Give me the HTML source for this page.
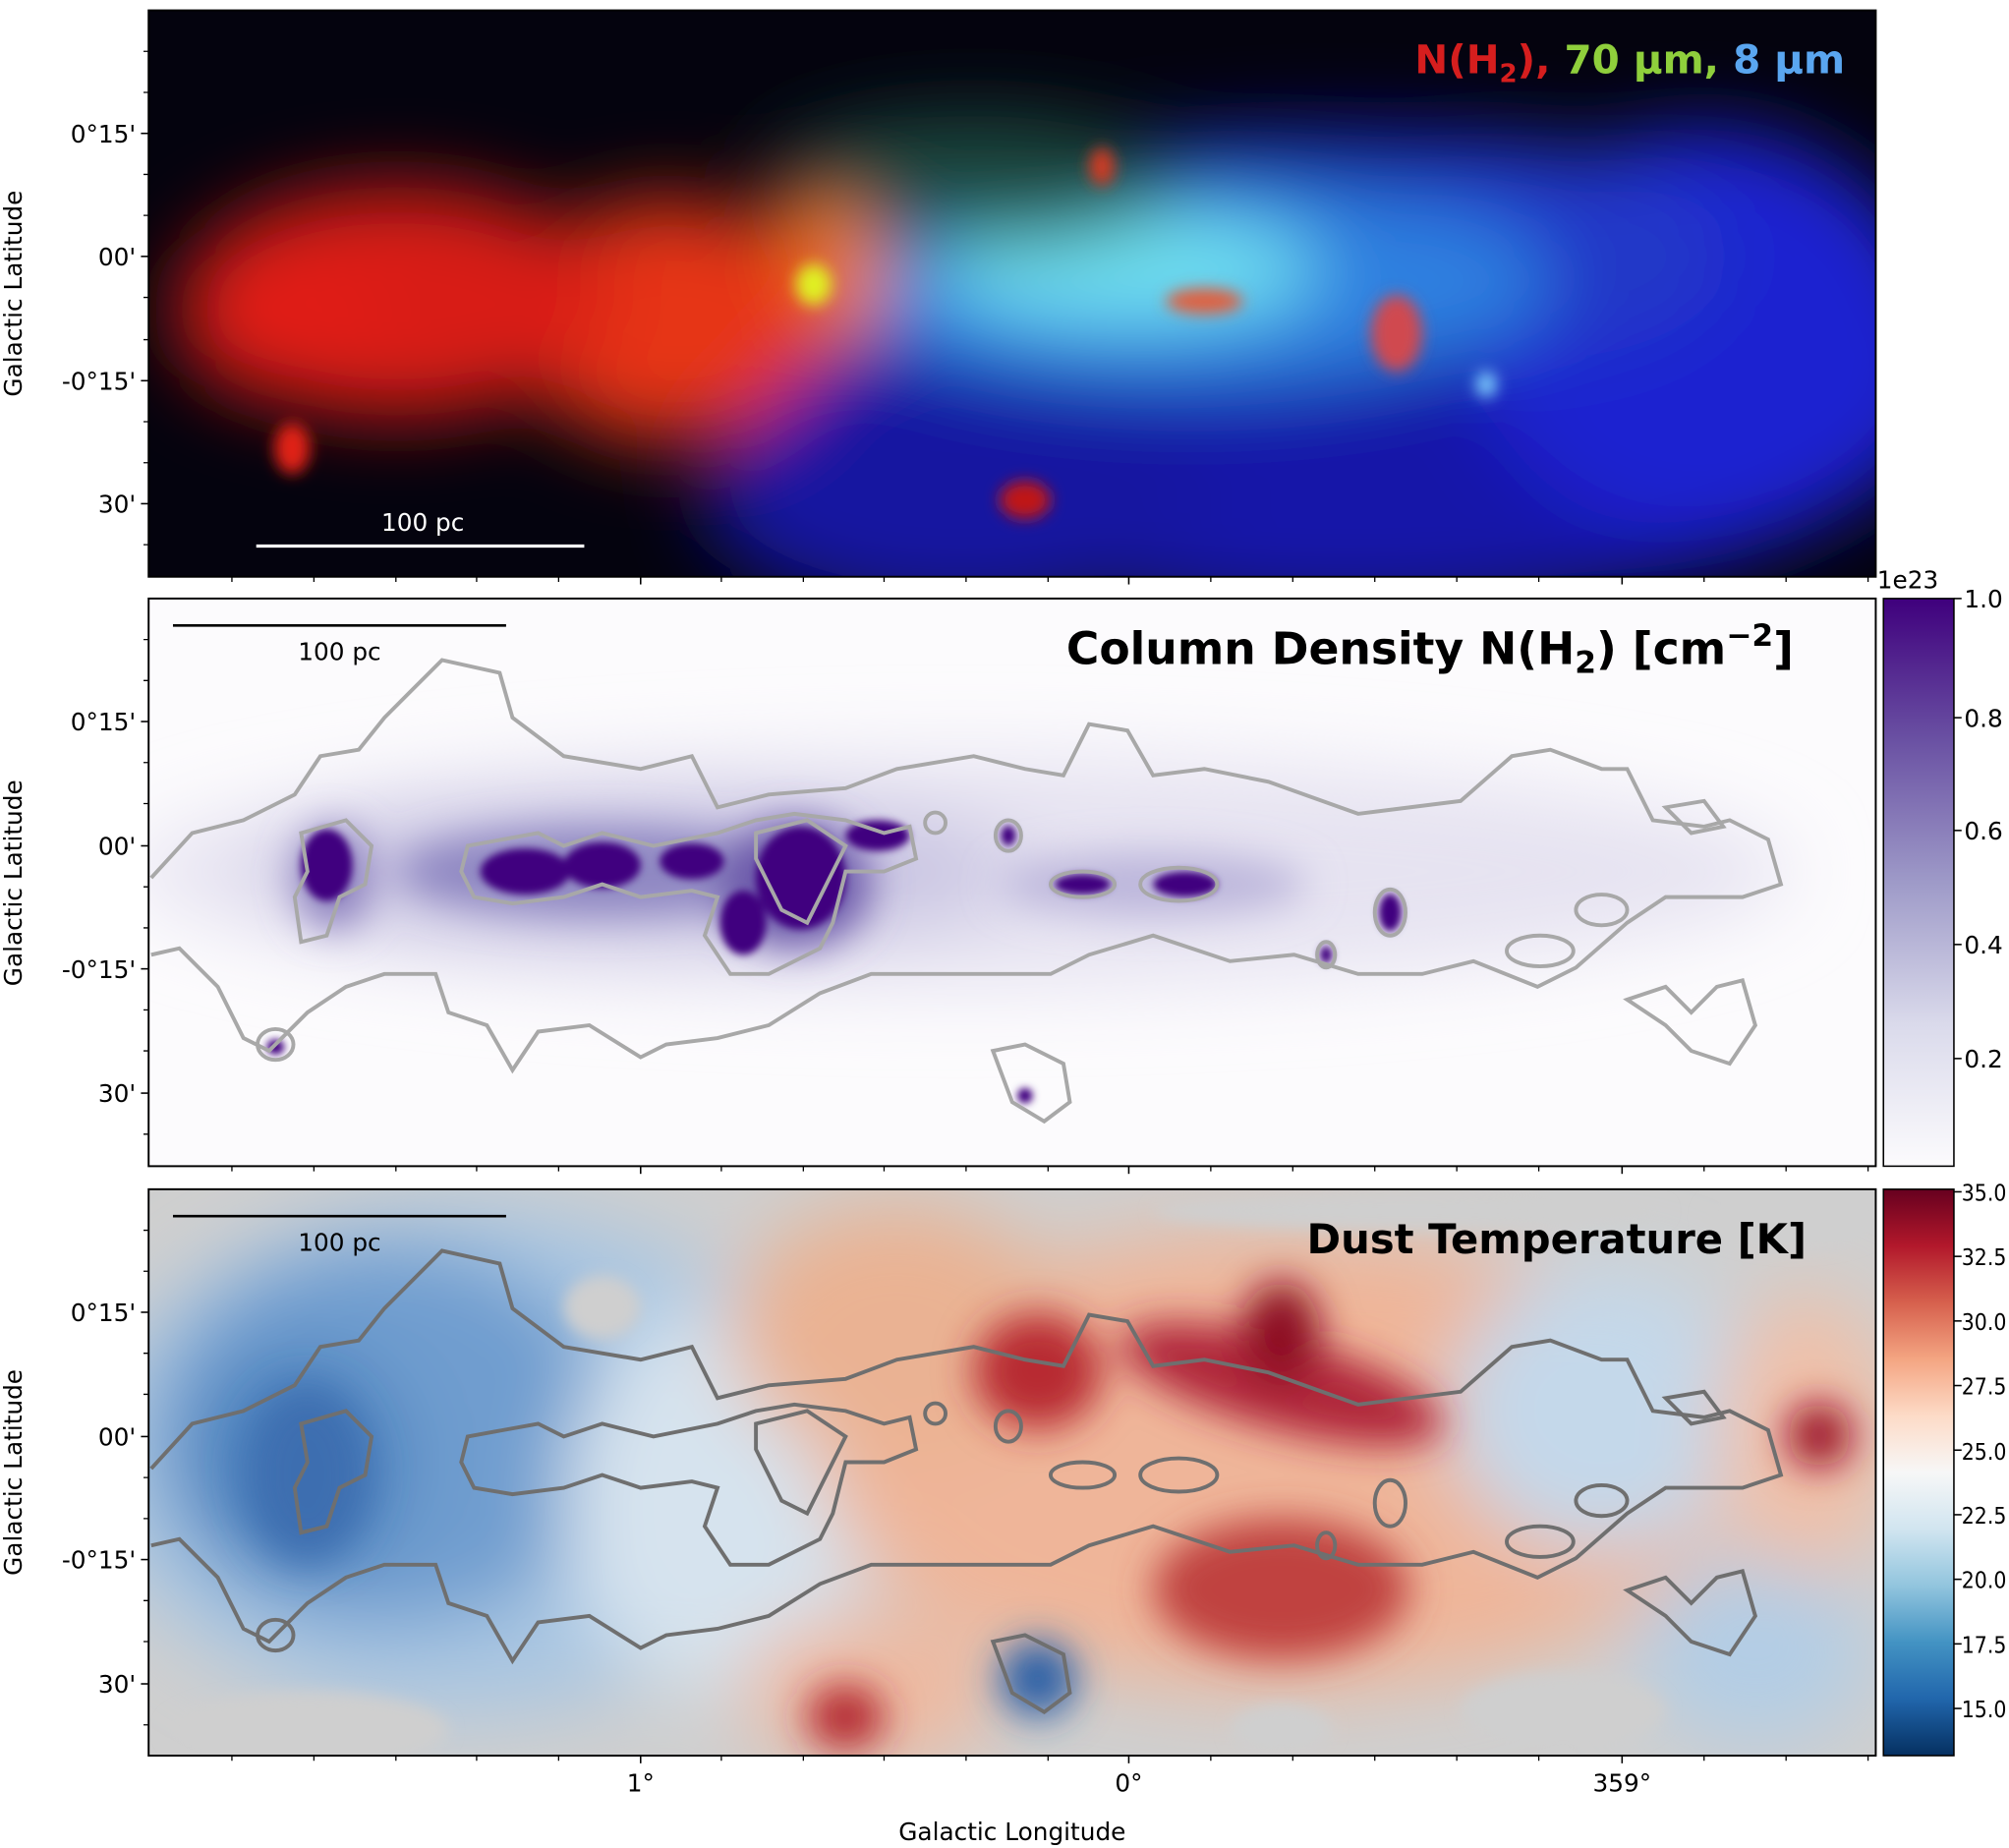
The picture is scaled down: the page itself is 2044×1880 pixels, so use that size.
<!DOCTYPE html>
<html><head><meta charset="utf-8"><style>
html,body{margin:0;padding:0;background:#fff;width:2044px;height:1880px;overflow:hidden}
svg{display:block}
text{font-family:"DejaVu Sans","Liberation Sans",sans-serif}
</style></head><body>
<svg width="2044" height="1880" viewBox="0 0 1568 1442" xmlns="http://www.w3.org/2000/svg">
<defs>
<clipPath id="cp1"><rect x="116" y="8" width="1348" height="442"/></clipPath>
<clipPath id="cp2"><rect x="116" y="467" width="1348" height="443"/></clipPath>
<clipPath id="cp3"><rect x="116" y="928" width="1348" height="442"/></clipPath>
<filter id="b30" x="-50%" y="-50%" width="200%" height="200%"><feGaussianBlur stdDeviation="30"/></filter>
<filter id="b15" x="-50%" y="-50%" width="200%" height="200%"><feGaussianBlur stdDeviation="15"/></filter>
<filter id="b6" x="-50%" y="-50%" width="200%" height="200%"><feGaussianBlur stdDeviation="6"/></filter>
<filter id="b3" x="-50%" y="-50%" width="200%" height="200%"><feGaussianBlur stdDeviation="3"/></filter>
<linearGradient id="pur" x1="0" y1="1" x2="0" y2="0">
<stop offset="0" stop-color="#fcfbfd"/><stop offset="0.25" stop-color="#dadaeb"/><stop offset="0.5" stop-color="#9e9ac8"/><stop offset="0.75" stop-color="#6a51a3"/><stop offset="1" stop-color="#3f007d"/></linearGradient>
<linearGradient id="rdbu" x1="0" y1="1" x2="0" y2="0">
<stop offset="0" stop-color="#053061"/><stop offset="0.1" stop-color="#2166ac"/><stop offset="0.2" stop-color="#4393c3"/><stop offset="0.3" stop-color="#92c5de"/><stop offset="0.4" stop-color="#d1e5f0"/><stop offset="0.5" stop-color="#f7f7f7"/><stop offset="0.6" stop-color="#fddbc7"/><stop offset="0.7" stop-color="#f4a582"/><stop offset="0.8" stop-color="#d6604d"/><stop offset="0.9" stop-color="#b2182b"/><stop offset="1" stop-color="#67001f"/></linearGradient>
<path id="outer" d="M118,685 L150,650 L190,640 L230,620 L250,590 L280,585 L300,560 L320,540 L345,515 L390,525 L400,560 L440,590 L500,600 L540,590 L560,630 L600,620 L660,615 L700,600 L760,590 L800,600 L830,605 L850,565 L880,570 L900,605 L940,600 L990,610 L1060,635 L1100,630 L1140,625 L1180,590 L1210,585 L1250,600 L1270,600 L1290,640 L1330,645 L1350,640 L1380,655 L1390,690 L1360,700 L1300,700 L1270,720 L1230,755 L1200,770 L1150,750 L1110,760 L1060,760 L1010,745 L960,750 L900,730 L850,745 L820,760 L770,760 L720,760 L680,760 L640,775 L600,800 L560,810 L520,815 L500,825 L460,800 L420,805 L400,835 L380,800 L350,790 L340,760 L300,760 L270,770 L240,790 L210,820 L190,810 L170,770 L140,740 L118,745"/>
<g id="inner">
<path d="M235,650 L270,640 L290,660 L285,690 L265,700 L255,730 L235,735 L230,700 L240,680Z"/>
<path d="M365,660 L420,650 L440,660 L470,650 L510,660 L560,650 L590,640 L620,635 L660,640 L690,650 L710,645 L715,670 L690,680 L660,680 L650,720 L640,740 L600,760 L570,760 L550,730 L560,700 L540,695 L500,700 L470,690 L440,700 L400,705 L370,700 L360,680Z"/>
<path d="M590,650 L630,640 L660,660 L645,690 L630,720 L610,710 L600,690 L590,670Z"/>
<ellipse cx="845" cy="690" rx="25" ry="10"/><ellipse cx="920" cy="690" rx="30" ry="13"/>
<ellipse cx="1085" cy="712" rx="12" ry="18"/><ellipse cx="787" cy="652" rx="10" ry="12"/><ellipse cx="730" cy="642" rx="8" ry="8"/>
<ellipse cx="1035" cy="745" rx="7" ry="10"/><ellipse cx="215" cy="815" rx="14" ry="12"/>
<path d="M1300,630 L1330,625 L1345,645 L1320,650Z"/><ellipse cx="1202" cy="742" rx="26" ry="12"/>
<path d="M775,820 L800,815 L830,830 L835,860 L815,875 L790,860Z"/>
<path d="M1270,780 L1300,770 L1320,790 L1340,770 L1360,765 L1370,800 L1350,830 L1320,820 L1300,800Z"/>
<ellipse cx="1250" cy="710" rx="20" ry="12"/>
</g>
</defs>

<!-- PANEL 1 -->
<g clip-path="url(#cp1)">
<rect x="116" y="8" width="1348" height="442" fill="#04030e"/>
<g filter="url(#b30)">
<ellipse cx="1050" cy="290" rx="480" ry="190" fill="#1216a8"/>
<ellipse cx="1330" cy="260" rx="180" ry="160" fill="#1e24d0"/>
<ellipse cx="1200" cy="200" rx="150" ry="80" fill="#2438c8"/>
<ellipse cx="750" cy="390" rx="200" ry="90" fill="#1218a0"/>
<ellipse cx="930" cy="220" rx="280" ry="80" fill="#2e80e0"/>
<ellipse cx="880" cy="210" rx="150" ry="45" fill="#70e0f0"/>
<ellipse cx="760" cy="140" rx="160" ry="50" fill="#1e4a40"/>
<ellipse cx="640" cy="215" rx="50" ry="60" fill="#f07a20"/>
<ellipse cx="520" cy="250" rx="120" ry="95" fill="#e63418"/>
<ellipse cx="310" cy="235" rx="170" ry="90" fill="#d81c14"/>
<ellipse cx="220" cy="250" rx="80" ry="60" fill="#e01c18"/>
</g>
<g filter="url(#b6)">
<ellipse cx="635" cy="222" rx="14" ry="16" fill="#e0f020"/>
<ellipse cx="940" cy="235" rx="30" ry="10" fill="#e06040"/>
<ellipse cx="1090" cy="260" rx="20" ry="30" fill="#d04850"/>
<ellipse cx="860" cy="130" rx="10" ry="15" fill="#d03a20"/>
<ellipse cx="228" cy="350" rx="14" ry="20" fill="#e02018"/>
<ellipse cx="800" cy="390" rx="20" ry="15" fill="#c01818"/>
<ellipse cx="1160" cy="300" rx="8" ry="10" fill="#80d0ff"/>
</g>
<text x="1440" y="57" text-anchor="end" font-family="Liberation Sans, sans-serif" font-weight="bold" font-size="31"><tspan fill="#d61e1e">N(H</tspan><tspan fill="#d61e1e" font-size="20" dy="7">2</tspan><tspan fill="#d61e1e" dy="-7">),</tspan><tspan fill="#8fcf3c"> 70 µm,</tspan><tspan fill="#5aa6f0"> 8 µm</tspan></text>
<line x1="200" y1="426" x2="456" y2="426" stroke="#fff" stroke-width="2.5"/>
<text x="330" y="414" text-anchor="middle" fill="#fff" font-size="19">100 pc</text>
</g>
<rect x="116" y="8" width="1348" height="442" fill="none" stroke="#000" stroke-width="1.5"/>

<!-- PANEL 2 -->
<g clip-path="url(#cp2)">
<rect x="116" y="467" width="1348" height="443" fill="#fcfbfd"/>
<g filter="url(#b30)">
<ellipse cx="750" cy="680" rx="650" ry="90" fill="#e6e3f1"/>
<ellipse cx="500" cy="680" rx="300" ry="60" fill="#c9c5e2"/>
</g>
<g filter="url(#b15)">
<ellipse cx="470" cy="680" rx="160" ry="35" fill="#8f87c2"/>
<ellipse cx="620" cy="690" rx="60" ry="50" fill="#6d5aab"/>
<ellipse cx="260" cy="685" rx="30" ry="40" fill="#8e82c0"/>
<ellipse cx="900" cy="690" rx="120" ry="25" fill="#bcb6db"/>
</g>
<g filter="url(#b3)" fill="#3f047f">
<ellipse cx="255" cy="675" rx="20" ry="28"/>
<ellipse cx="410" cy="680" rx="35" ry="18"/>
<ellipse cx="470" cy="675" rx="30" ry="18"/>
<ellipse cx="540" cy="672" rx="25" ry="14"/>
<ellipse cx="625" cy="685" rx="35" ry="40"/>
<ellipse cx="685" cy="652" rx="25" ry="12"/>
<ellipse cx="580" cy="720" rx="18" ry="25"/>
<ellipse cx="845" cy="690" rx="22" ry="8"/>
<ellipse cx="925" cy="690" rx="25" ry="10"/>
<ellipse cx="1085" cy="712" rx="9" ry="15"/>
<ellipse cx="1035" cy="745" rx="5" ry="7"/>
<ellipse cx="215" cy="817" rx="7" ry="6"/>
<ellipse cx="787" cy="652" rx="6" ry="8"/>
<ellipse cx="800" cy="855" rx="6" ry="6"/>
</g>
<use href="#outer" fill="none" stroke="#a8a8a8" stroke-width="3"/>
<use href="#inner" fill="none" stroke="#a8a8a8" stroke-width="3"/>
<text x="1400" y="518" text-anchor="end" font-weight="bold" font-size="35" fill="#000">Column Density N(H<tspan font-size="24" dy="7">2</tspan><tspan dy="-7">) [cm</tspan><tspan font-size="24" dy="-14">−2</tspan><tspan dy="14">]</tspan></text>
<line x1="135" y1="488" x2="395" y2="488" stroke="#000" stroke-width="2"/>
<text x="265" y="515" text-anchor="middle" font-size="19">100 pc</text>
</g>
<rect x="116" y="467" width="1348" height="443" fill="none" stroke="#000" stroke-width="1.5"/>

<!-- PANEL 3 -->
<g clip-path="url(#cp3)">
<rect x="116" y="928" width="1348" height="442" fill="#cfcfcf"/>
<g filter="url(#b30)">
<ellipse cx="360" cy="1140" rx="290" ry="200" fill="#a9c6e2"/>
<ellipse cx="300" cy="1120" rx="180" ry="150" fill="#6f9dcf"/>
<ellipse cx="230" cy="1140" rx="90" ry="90" fill="#4f85c0"/>
<ellipse cx="560" cy="1170" rx="120" ry="150" fill="#d6e3ee"/>
<ellipse cx="1000" cy="1140" rx="360" ry="180" fill="#efb599"/>
<ellipse cx="700" cy="1040" rx="130" ry="100" fill="#eab293"/>
<ellipse cx="1250" cy="1100" rx="120" ry="110" fill="#c4d8ea"/>
<ellipse cx="1410" cy="1120" rx="70" ry="110" fill="#f0c0a8"/>
<ellipse cx="1370" cy="1290" rx="90" ry="70" fill="#b3cde5"/>
<ellipse cx="680" cy="1320" rx="100" ry="60" fill="#eeb9a0"/>
</g>
<g filter="url(#b15)">
<ellipse cx="1000" cy="1080" rx="130" ry="35" fill="#b0283a" transform="rotate(15 1000 1080)"/>
<ellipse cx="810" cy="1070" rx="50" ry="45" fill="#b82a30"/>
<ellipse cx="1000" cy="1240" rx="100" ry="55" fill="#c0433f"/>
<ellipse cx="1000" cy="1040" rx="30" ry="40" fill="#8c0a24"/>
<ellipse cx="1420" cy="1120" rx="25" ry="25" fill="#9a1028"/>
<ellipse cx="240" cy="1150" rx="50" ry="70" fill="#3d6eb0"/>
<ellipse cx="810" cy="1310" rx="30" ry="30" fill="#2c5ea6"/>
<ellipse cx="660" cy="1340" rx="30" ry="25" fill="#b2282f"/>
</g>
<g filter="url(#b6)">
<ellipse cx="470" cy="1020" rx="30" ry="25" fill="#cfcfcf"/>
<ellipse cx="1220" cy="1335" rx="80" ry="30" fill="#cfcfcf"/>
<ellipse cx="240" cy="1350" rx="110" ry="30" fill="#cfcfcf"/>
<ellipse cx="1000" cy="1350" rx="40" ry="20" fill="#cfcfcf"/>
<ellipse cx="1100" cy="945" rx="200" ry="15" fill="#cfcfcf"/>
<ellipse cx="1400" cy="950" rx="70" ry="25" fill="#cfcfcf"/>
</g>
<g transform="translate(0,461)">
<use href="#outer" fill="none" stroke="#6f6f6f" stroke-width="3"/>
<use href="#inner" fill="none" stroke="#6f6f6f" stroke-width="3"/>
</g>
<text x="1410" y="978" text-anchor="end" font-weight="bold" font-size="32" fill="#000">Dust Temperature [K]</text>
<line x1="135" y1="949" x2="395" y2="949" stroke="#000" stroke-width="2"/>
<text x="265" y="976" text-anchor="middle" font-size="19">100 pc</text>
</g>
<rect x="116" y="928" width="1348" height="442" fill="none" stroke="#000" stroke-width="1.5"/>

<!-- colorbars -->
<rect x="1470" y="467" width="55" height="443" fill="url(#pur)" stroke="#000" stroke-width="1.2"/>
<rect x="1470" y="928" width="55" height="442" fill="url(#rdbu)" stroke="#000" stroke-width="1.2"/>
<g stroke="#000" stroke-width="1.2">
<line x1="1525" y1="467" x2="1531" y2="467"/><line x1="1525" y1="560" x2="1531" y2="560"/><line x1="1525" y1="648" x2="1531" y2="648"/><line x1="1525" y1="737" x2="1531" y2="737"/><line x1="1525" y1="826" x2="1531" y2="826"/>
</g>
<g font-size="19" fill="#000">
<text x="1533" y="474">1.0</text><text x="1533" y="567">0.8</text><text x="1533" y="655">0.6</text><text x="1533" y="744">0.4</text><text x="1533" y="833">0.2</text>
<text x="1465" y="459">1e23</text>
</g>
<g stroke="#000" stroke-width="1.2">
<line x1="1525" y1="930" x2="1531" y2="930"/><line x1="1525" y1="980.4" x2="1531" y2="980.4"/><line x1="1525" y1="1030.8" x2="1531" y2="1030.8"/><line x1="1525" y1="1081.2" x2="1531" y2="1081.2"/><line x1="1525" y1="1131.6" x2="1531" y2="1131.6"/><line x1="1525" y1="1182" x2="1531" y2="1182"/><line x1="1525" y1="1232.4" x2="1531" y2="1232.4"/><line x1="1525" y1="1282.8" x2="1531" y2="1282.8"/><line x1="1525" y1="1333.2" x2="1531" y2="1333.2"/>
</g>
<g font-size="18" fill="#000">
<text x="1531" y="937" textLength="35" lengthAdjust="spacingAndGlyphs">35.0</text><text x="1531" y="987" textLength="35" lengthAdjust="spacingAndGlyphs">32.5</text><text x="1531" y="1038" textLength="35" lengthAdjust="spacingAndGlyphs">30.0</text><text x="1531" y="1088" textLength="35" lengthAdjust="spacingAndGlyphs">27.5</text><text x="1531" y="1139" textLength="35" lengthAdjust="spacingAndGlyphs">25.0</text><text x="1531" y="1189" textLength="35" lengthAdjust="spacingAndGlyphs">22.5</text><text x="1531" y="1239" textLength="35" lengthAdjust="spacingAndGlyphs">20.0</text><text x="1531" y="1290" textLength="35" lengthAdjust="spacingAndGlyphs">17.5</text><text x="1531" y="1340" textLength="35" lengthAdjust="spacingAndGlyphs">15.0</text>
</g>

<!-- axis ticks -->
<g stroke="#000" stroke-width="1.2">
<line x1="110" y1="104" x2="116" y2="104"/><line x1="110" y1="200" x2="116" y2="200"/><line x1="110" y1="297" x2="116" y2="297"/><line x1="110" y1="393" x2="116" y2="393"/>
<line x1="110" y1="563" x2="116" y2="563"/><line x1="110" y1="660" x2="116" y2="660"/><line x1="110" y1="756" x2="116" y2="756"/><line x1="110" y1="853" x2="116" y2="853"/>
<line x1="110" y1="1024" x2="116" y2="1024"/><line x1="110" y1="1121" x2="116" y2="1121"/><line x1="110" y1="1217" x2="116" y2="1217"/><line x1="110" y1="1314" x2="116" y2="1314"/>
<line x1="500" y1="1370" x2="500" y2="1376"/><line x1="881" y1="1370" x2="881" y2="1376"/><line x1="1266" y1="1370" x2="1266" y2="1376"/>
<line x1="500" y1="910" x2="500" y2="916"/><line x1="881" y1="910" x2="881" y2="916"/><line x1="1266" y1="910" x2="1266" y2="916"/>
<line x1="500" y1="450" x2="500" y2="456"/><line x1="881" y1="450" x2="881" y2="456"/><line x1="1266" y1="450" x2="1266" y2="456"/>
</g>
<g stroke="#000" stroke-width="1">
<path d="M181,1370v4M245,1370v4M309,1370v4M372,1370v4M436,1370v4M563,1370v4M627,1370v4M690,1370v4M754,1370v4M818,1370v4M945,1370v4M1009,1370v4M1073,1370v4M1137,1370v4M1201,1370v4M1330,1370v4M1394,1370v4M1458,1370v4"/>
<path d="M181,910v4M245,910v4M309,910v4M372,910v4M436,910v4M563,910v4M627,910v4M690,910v4M754,910v4M818,910v4M945,910v4M1009,910v4M1073,910v4M1137,910v4M1201,910v4M1330,910v4M1394,910v4M1458,910v4"/>
<path d="M181,450v4M245,450v4M309,450v4M372,450v4M436,450v4M563,450v4M627,450v4M690,450v4M754,450v4M818,450v4M945,450v4M1009,450v4M1073,450v4M1137,450v4M1201,450v4M1330,450v4M1394,450v4M1458,450v4"/>
<path d="M112,40h4M112,72h4M112,136h4M112,168h4M112,232h4M112,265h4M112,329h4M112,361h4M112,425h4"/>
<path d="M112,499h4M112,531h4M112,595h4M112,627h4M112,692h4M112,724h4M112,788h4M112,820h4M112,885h4"/>
<path d="M112,960h4M112,992h4M112,1056h4M112,1088h4M112,1153h4M112,1185h4M112,1249h4M112,1281h4M112,1346h4"/>
</g>
<g font-size="19" fill="#000" text-anchor="end">
<text x="106" y="111">0°15'</text><text x="106" y="207">00'</text><text x="106" y="304">-0°15'</text><text x="106" y="400">30'</text>
<text x="106" y="570">0°15'</text><text x="106" y="667">00'</text><text x="106" y="763">-0°15'</text><text x="106" y="860">30'</text>
<text x="106" y="1031">0°15'</text><text x="106" y="1128">00'</text><text x="106" y="1224">-0°15'</text><text x="106" y="1321">30'</text>
</g>
<g font-size="19" fill="#000" text-anchor="middle">
<text x="500" y="1398">1°</text><text x="881" y="1398">0°</text><text x="1266" y="1398">359°</text>
<text x="790" y="1436">Galactic Longitude</text>
</g>
<g font-size="19" fill="#000" text-anchor="middle">
<text transform="translate(17,229) rotate(-90)">Galactic Latitude</text>
<text transform="translate(17,689) rotate(-90)">Galactic Latitude</text>
<text transform="translate(17,1149) rotate(-90)">Galactic Latitude</text>
</g>
</svg>
</body></html>
